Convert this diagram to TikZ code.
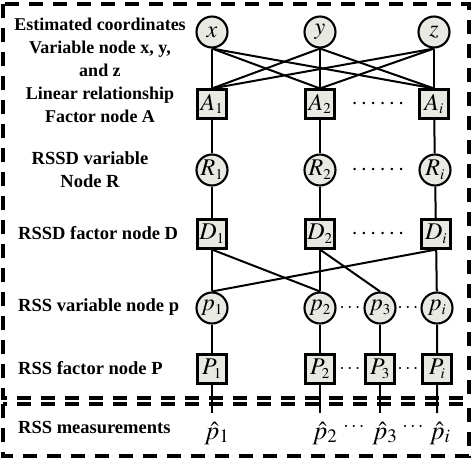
\documentclass[tikz,border=0pt]{standalone}
\usepackage{mathptmx}
\usepackage{fontspec}
\setmainfont{Liberation Serif}
\DeclareMathSizes{24}{24}{15}{11}
\DeclareMathSizes{26}{26}{19}{14}
\DeclareMathSizes{20}{20}{14}{10}
\definecolor{nodefill}{RGB}{233,233,228}
\begin{document}
\begin{tikzpicture}[x=1pt,y=-1pt,
  var/.style={circle,draw,line width=2.1pt,fill=nodefill,minimum size=31pt,inner sep=0pt,font=\fontsize{24}{28}\selectfont},
  fac/.style={rectangle,draw,line width=2.1pt,fill=nodefill,minimum size=29pt,inner sep=0pt,font=\fontsize{24}{28}\selectfont},
  lbl/.style={font=\fontsize{18.5}{23}\selectfont\bfseries,inner sep=0pt},
  lbltop/.style={font=\fontsize{18}{23}\selectfont\bfseries,inner sep=0pt},
  hatlbl/.style={font=\fontsize{26}{30}\selectfont,inner sep=0pt},
  dotsl/.style={font=\fontsize{24}{28}\selectfont,inner sep=0pt},
  dotss/.style={font=\fontsize{20}{22}\selectfont,inner sep=0pt},
  conn/.style={line width=2pt},
  frame/.style={line width=3.2pt,dash pattern=on 14pt off 10pt}]
\useasboundingbox (0,0) rectangle (474,459);
% frames
\draw[frame] (3,4) rectangle (469,398);
\draw[frame] (3,404) rectangle (469,456);
% left labels
\node[lbltop,align=center] (t1) at (100,70) {Estimated coordinates\\Variable node x, y,\\and z\\Linear relationship\\Factor node A};
\node[lbl,align=center] (t2) at (90,170) {RSSD variable\\Node R};
\node[lbl,anchor=west] (t3) at (18,233) {RSSD factor node D};
\node[lbl,anchor=west] (t4) at (18,307) {RSS variable node p};
\node[lbl,anchor=west] (t5) at (18,368) {RSS factor node P};
\node[lbl,anchor=west] (t6) at (18,427) {RSS measurements};
% nodes
\node[var] (x) at (212,32) {$x$};
\node[var] (y) at (320,32) {$y$};
\node[var] (z) at (434,32) {$z$};
\node[fac] (A1) at (212,104) {$A_1$};
\node[fac] (A2) at (320,104) {$A_2$};
\node[fac] (Ai) at (434,104) {$A_i$};
\node[var] (R1) at (212,170) {$R_1$};
\node[var] (R2) at (320,170) {$R_2$};
\node[var] (Ri) at (435,170) {$R_i$};
\node[fac] (D1) at (212,234) {$D_1$};
\node[fac] (D2) at (320,234) {$D_2$};
\node[fac] (Di) at (436,234) {$D_i$};
\node[var] (p1) at (212,308) {$p_1$};
\node[var] (p2) at (320,308) {$p_2$};
\node[var] (p3) at (380,308) {$p_3$};
\node[var] (pi) at (437,308) {$p_i$};
\node[fac] (P1) at (212,369) {$P_1$};
\node[fac] (P2) at (320,369) {$P_2$};
\node[fac] (P3) at (380,369) {$P_3$};
\node[fac] (Pi) at (437,369) {$P_i$};
\coordinate (e1) at (212,413);
\coordinate (e2) at (320,413);
\coordinate (e3) at (380,413);
\coordinate (ei) at (437,413);
\node[hatlbl] (h1) at (217,433) {$\hat{p}_1$};
\node[hatlbl] (h2) at (325,433) {$\hat{p}_2$};
\node[hatlbl] (h3) at (385,433) {$\hat{p}_3$};
\node[hatlbl] (hi) at (440,433) {$\hat{p}_i$};
% dots
\node[dotsl] (da) at (378,104) {$\cdots\cdots$};
\node[dotsl] (dr) at (378,170) {$\cdots\cdots$};
\node[dotsl] (dd) at (378,234) {$\cdots\cdots$};
\node[dotss] (dp1) at (350,308) {$\cdots$};
\node[dotss] (dp2) at (408,308) {$\cdots$};
\node[dotss] (dP1) at (350,369) {$\cdots$};
\node[dotss] (dP2) at (408,369) {$\cdots$};
\node[dotss] (dh1) at (354,427) {$\cdots$};
\node[dotss] (dh2) at (413,427) {$\cdots$};
% connectors
\foreach \s in {x,y,z}{
  \foreach \t in {A1,A2,Ai}{
    \draw[conn] (\s.south) -- (\t.north);
  }
}
\draw[conn] (A1) -- (R1) -- (D1) -- (p1) -- (P1) -- (e1);
\draw[conn] (A2) -- (R2) -- (D2) -- (p2) -- (P2) -- (e2);
\draw[conn] (Ai) -- (Ri) -- (Di) -- (pi) -- (Pi) -- (ei);
\draw[conn] (p3) -- (P3) -- (e3);
\draw[conn] (D1.south) -- (p2.north);
\draw[conn] (D2.south) -- (p3.north);
\draw[conn] (Di.south) -- (p1.north);
\end{tikzpicture}
\end{document}
